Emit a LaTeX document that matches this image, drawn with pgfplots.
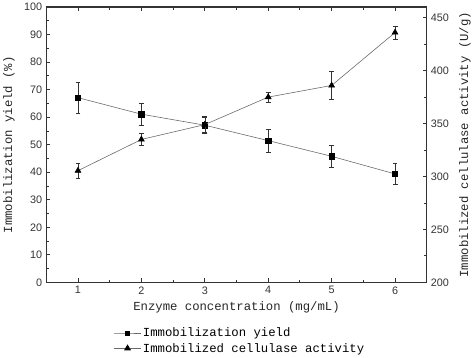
\documentclass[border=0pt]{standalone}
\usepackage{pgfplots}
\pgfplotsset{compat=1.18}
\usepackage{fontspec}
\setmainfont{Liberation Mono}
\newfontfamily\tickfont{Liberation Sans}
\definecolor{axc}{HTML}{333333}
\definecolor{lnc}{HTML}{6A6A6A}
\begin{document}
\begin{tikzpicture}
\pgfplotsset{
  common/.style={
    scale only axis, width=387pt, height=280pt,
    xmin=0.5, xmax=6.5,
    tick align=inside,
    axis line style={line width=1.3pt, color=axc},
    major tick length=4pt, minor tick length=2.5pt,
    every tick/.style={line width=0.9pt, color=axc},
    /pgf/number format/assume math mode=true,
    ticklabel style={font=\tickfont\fontsize{11}{13}\selectfont, color=axc},
    yticklabel style={inner xsep=4pt},
    xticklabel style={inner ysep=4pt},
    label style={font=\fontsize{12.5}{14}\selectfont, color=black!85},
  }
}
\begin{axis}[common,
  ymin=0, ymax=100,
  xtick={1,2,3,4,5,6}, ytick={0,10,...,100},
  minor x tick num=1, minor y tick num=1,
  ytick pos=left,
  xlabel={Enzyme concentration (mg/mL)},
  ylabel={Immobilization yield (\%)},
  xlabel style={yshift=0pt},
  ylabel style={yshift=2pt},
]
\addplot[color=lnc, line width=0.6pt, mark=square*, mark size=2.7pt,
  mark options={fill=black, draw=black, solid},
  error bars/.cd, y dir=both, y explicit,
  error bar style={line width=0.6pt, color=axc},
  error mark options={rotate=90, mark size=2.5pt, line width=0.6pt, color=axc}]
coordinates {
(1,67.1) +- (0,5.7)
(2,61.1) +- (0,4.0)
(3,57.1) +- (0,3.0)
(4,51.5) +- (0,4.1)
(5,45.8) +- (0,4.0)
(6,39.4) +- (0,3.9)
};
\end{axis}
\begin{axis}[common,
  axis x line=none,
  axis y line*=right,
  ymin=200, ymax=460,
  ytick={200,250,...,450},
  minor y tick num=1,
  ylabel={Immobilized cellulase activity (U/g)},
  ylabel style={yshift=-3pt},
  legend style={draw=none, fill=none, at={(axis description cs:0.17,-0.15)},
    anchor=north west, font=\fontsize{12.5}{14}\selectfont, row sep=1pt,
    legend cell align=left},
  legend cell align=left,
  legend image code/.code={\draw[mark repeat=2,mark phase=2,#1] plot coordinates {(0cm,0cm) (0.47cm,0cm) (0.94cm,0cm)};},
]
\addlegendimage{color=lnc, line width=0.6pt, mark=square*, mark size=2.2pt, mark options={fill=black, draw=black}}
\addlegendentry{Immobilization yield}
\addplot[color=lnc, line width=0.6pt, mark=triangle*, mark size=3.4pt,
  mark options={fill=black, draw=black, solid},
  error bars/.cd, y dir=both, y explicit,
  error bar style={line width=0.6pt, color=axc},
  error mark options={rotate=90, mark size=2.5pt, line width=0.6pt, color=axc}]
coordinates {
(1,305.5) +- (0,7.0)
(2,335.0) +- (0,5.6)
(3,349.0) +- (0,7.5)
(4,375.0) +- (0,4.5)
(5,386.0) +- (0,13.5)
(6,436.0) +- (0,6.0)
};
\addlegendentry{Immobilized cellulase activity}
\end{axis}
\end{tikzpicture}
\end{document}
